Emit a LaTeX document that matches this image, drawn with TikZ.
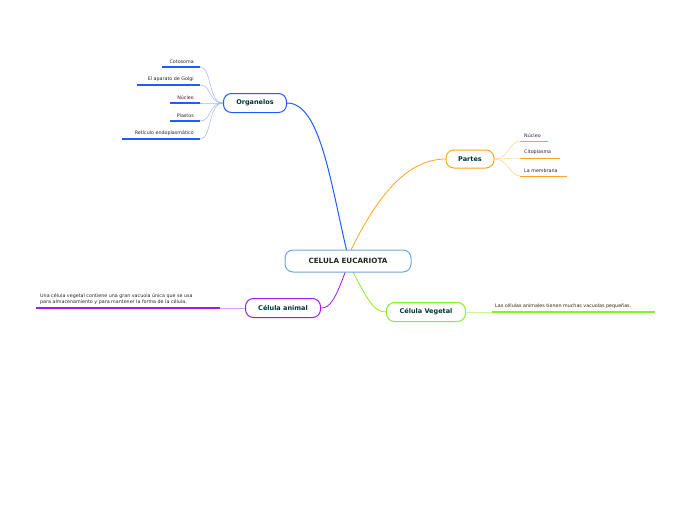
\documentclass[tikz,border=0pt]{standalone}
\usepackage{fontspec}
\setmainfont{DejaVu Sans}
\begin{document}
\begin{tikzpicture}[x=1pt,y=-1pt,
 main/.style={draw=#1,line width=1pt,rounded corners=8pt,fill=white,font=\fontsize{6.5}{7}\selectfont\bfseries,text=black!85,inner sep=0pt},
 leaf/.style={font=\fontsize{4.8}{5.5}\selectfont,anchor=south west,inner sep=0pt,text=black!85}]
\useasboundingbox (0,0) rectangle (697,520);
\definecolor{cb}{HTML}{1F5BFF}\definecolor{cbl}{HTML}{9DB5FF}
\definecolor{co}{HTML}{FFA31A}\definecolor{col}{HTML}{FFD08A}
\definecolor{cp}{HTML}{A21AF0}\definecolor{cpl}{HTML}{D9A0F8}
\definecolor{cg}{HTML}{86F020}\definecolor{cgl}{HTML}{C8F8A0}
\definecolor{cc}{HTML}{6BA8DD}
% connectors
\draw[cb,line width=1pt] (347,252) .. controls (330,180) and (320,103) .. (287,103) coordinate (oR);
\draw[co,line width=0.8pt] (350,252) .. controls (380,190) and (410,159) .. (446,159);
\draw[cp,line width=0.8pt] (346,270) .. controls (335,300) and (330,308) .. (321,308);
\draw[cg,line width=0.8pt] (352,270) .. controls (370,305) and (375,312) .. (387,312);
\node[main=cc,minimum width=126,minimum height=22,font=\fontsize{7.2}{8}\selectfont\bfseries] (c) at (348,261) {CELULA EUCARIOTA};
\node[main=cb,minimum width=63,minimum height=19,text=teal!40!black] (org) at (255,103) {Organelos};
\node[main=co,minimum width=48,minimum height=18,text=teal!40!black] (par) at (470,159) {Partes};
\node[main=cp,minimum width=75,minimum height=19,text=teal!40!black] (ani) at (283,308) {Célula animal};
\node[main=cg,minimum width=79,minimum height=19,text=teal!40!black] (veg) at (426,312) {Célula Vegetal};
% Organelos leaves
\foreach \t/\xa/\y/\n in {Cotosoma/162/67/o1,El aparato de Golgi/137/85/o2,Núcleo/170/103/o3,Plastos/170/121/o4,Retículo endoplasmático/122/139/o5}{
 \coordinate (\n a) at (\xa,\y); \coordinate (\n b) at (200,\y);
 \draw[cb,line width=1.2pt] (\n a) -- (\n b);
 \draw[cbl,line width=0.5pt] (org.west) .. controls (208,103) and (212,\y) .. (\n b);
 \node[leaf,anchor=south east] at ([xshift=-6pt,yshift=3pt]\n b) {\t};
}
% Partes leaves
\foreach \t/\xb/\y/\n in {Núcleo/548/141/p1,Citoplasma/560/158/p2,La membrana/567/176/p3}{
 \coordinate (\n a) at (520,\y); \coordinate (\n b) at (\xb,\y);
 \draw[co,line width=1pt] (\n a) -- (\n b);
 \draw[col,line width=0.5pt] (par.east) .. controls (508,159) and (510,\y) .. (\n a);
 \node[leaf] at ([xshift=4pt,yshift=3pt]\n a) {\t};
}
% animal leaf
\coordinate (a1) at (36,308); \coordinate (a2) at (220,308);
\draw[cp,line width=1.2pt] (a1) -- (a2);
\draw[cpl,line width=0.6pt] (a2) -- (ani.west);
\node[leaf,align=left,font=\fontsize{4.8}{6}\selectfont] at (40,305) {Una célula vegetal contiene una gran vacuola única que se usa\\para almacenamiento y para mantener la forma de la célula.};
% vegetal leaf
\coordinate (v1) at (492,312); \coordinate (v2) at (655,312);
\draw[cg,line width=1.2pt] (v1) -- (v2);
\draw[cgl,line width=0.6pt] (veg.east) -- (v1);
\node[leaf] at (495,309) {Las células animales tienen muchas vacuolas pequeñas.};
\end{tikzpicture}
\end{document}
